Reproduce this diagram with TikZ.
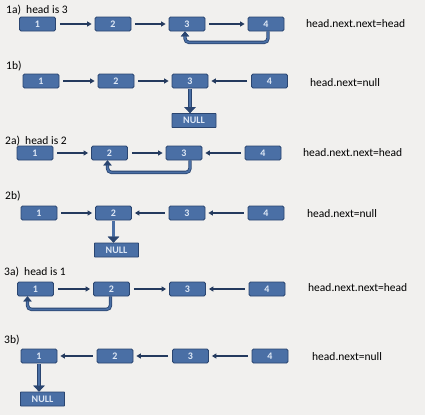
\documentclass[tikz,border=0pt]{standalone}
\usepackage{fontspec}
\setmainfont{Carlito}
\usepackage{tikz}
\usetikzlibrary{positioning}
\usetikzlibrary{arrows.meta}
\usepackage{xcolor}

\definecolor{bgray}{HTML}{F1F0EE}
\definecolor{boxblue}{HTML}{4A6FA5}
\definecolor{boxline}{HTML}{2A4570}
\definecolor{arrownavy}{HTML}{243A5E}
\definecolor{boxtext}{HTML}{DDE7F5}

\tikzset{
	cell/.style={draw=boxline, fill=boxblue, rounded corners=1.5pt, line width=0.8pt,
		minimum width=36pt, minimum height=14pt, inner sep=0pt,
		text=boxtext, font=\fontsize{10}{10}\selectfont\bfseries},
	nullcell/.style={cell, rounded corners=0.5pt, minimum width=44pt},
	link/.style={draw=arrownavy, line width=1.1pt, shorten >=3pt, shorten <=4pt,
		-{Triangle[length=4.5pt, width=5pt]}},
	backlink/.style={rounded corners=4pt, draw=boxblue, line width=1.8pt,
		preaction={draw=boxline, line width=3.4pt},
		-{Triangle[color=boxline, length=5pt, width=8pt]}},
	tonull/.style={draw=boxblue, line width=2.2pt, shorten <=1pt,
		preaction={draw=boxline, line width=3.8pt},
		-{Triangle[color=boxline, length=6pt, width=11pt]}},
	steplabel/.style={anchor=west, inner sep=0pt, font=\fontsize{11.5}{11.5}\selectfont},
}

\begin{document}
\begin{tikzpicture}[x=1pt, y=-1pt]
	\fill[bgray] (0,0) rectangle (425,415);
	\useasboundingbox (0,0) rectangle (425,415);

	% 1a) head is 3
	\node[steplabel] (la) at (6,10) {1a)\ \ head is 3};
	\node[cell] (a1) at (37.5,24) {1};
	\node[cell] (a2) at (113,24) {2};
	\node[cell] (a3) at (187,24) {3};
	\node[cell] (a4) at (266,24) {4};
	\node[steplabel] (ta) at (306,24) {head.next.next=head};
	\draw[link] (a1) -- (a2);
	\draw[link] (a2) -- (a3);
	\draw[link] (a3) -- (a4);
	\draw[backlink] ([xshift=2pt]a4.south) -- ++(0,11) -| ([xshift=-2pt]a3.south);

	% 1b)
	\node[steplabel] (lb) at (6,66) {1b)};
	\node[cell] (b1) at (41,81) {1};
	\node[cell] (b2) at (116,81) {2};
	\node[cell] (b3) at (190,81) {3};
	\node[cell] (b4) at (269.5,81) {4};
	\node[nullcell] (bn) at (194,120.5) {NULL};
	\node[steplabel] (tb) at (310,83) {head.next=null};
	\draw[link] (b1) -- (b2);
	\draw[link] (b2) -- (b3);
	\draw[link] (b4) -- (b3);
	\draw[tonull] (b3.south) -- (b3.south |- bn.north);

	% 2a) head is 2
	\node[steplabel] (lc) at (5,141) {2a)\ \ head is 2};
	\node[cell] (c1) at (35,153) {1};
	\node[cell] (c2) at (109.5,153) {2};
	\node[cell] (c3) at (184,153) {3};
	\node[cell] (c4) at (263,153) {4};
	\node[steplabel] (tc) at (303,153) {head.next.next=head};
	\draw[link] (c1) -- (c2);
	\draw[link] (c2) -- (c3);
	\draw[link] (c4) -- (c3);
	\draw[backlink] ([xshift=6pt]c3.south) -- ++(0,12) -| ([xshift=-2pt]c2.south);

	% 2b)
	\node[steplabel] (ld) at (5,196) {2b)};
	\node[cell] (d1) at (39,213) {1};
	\node[cell] (d2) at (113.5,213) {2};
	\node[cell] (d3) at (187,213) {3};
	\node[cell] (d4) at (266,213) {4};
	\node[nullcell] (dn) at (116.5,250) {NULL};
	\node[steplabel] (td) at (307,214) {head.next=null};
	\draw[link] (d1) -- (d2);
	\draw[link] (d3) -- (d2);
	\draw[link] (d4) -- (d3);
	\draw[tonull] (d2.south) -- (d2.south |- dn.north);

	% 3a) head is 1
	\node[steplabel] (le) at (4,272) {3a)\ \ head is 1};
	\node[cell] (e1) at (35.5,289) {1};
	\node[cell] (e2) at (111.5,289) {2};
	\node[cell] (e3) at (187.5,289) {3};
	\node[cell] (e4) at (267,289) {4};
	\node[steplabel] (te) at (308,288) {head.next.next=head};
	\draw[link] (e1) -- (e2);
	\draw[link] (e2) -- (e3);
	\draw[link] (e4) -- (e3);
	\draw[backlink] ([xshift=-1pt]e2.south) -- ++(0,13) -| ([xshift=-8pt]e1.south);

	% 3b)
	\node[steplabel] (lf) at (4,340) {3b)};
	\node[cell] (f1) at (39,356) {1};
	\node[cell] (f2) at (115,356) {2};
	\node[cell] (f3) at (190.5,356) {3};
	\node[cell] (f4) at (270,356) {4};
	\node[nullcell] (fn) at (42.5,399) {NULL};
	\node[steplabel] (tf) at (312,357) {head.next=null};
	\draw[link] (f2) -- (f1);
	\draw[link] (f3) -- (f2);
	\draw[link] (f4) -- (f3);
	\draw[tonull] (f1.south) -- (f1.south |- fn.north);
\end{tikzpicture}
\end{document}
